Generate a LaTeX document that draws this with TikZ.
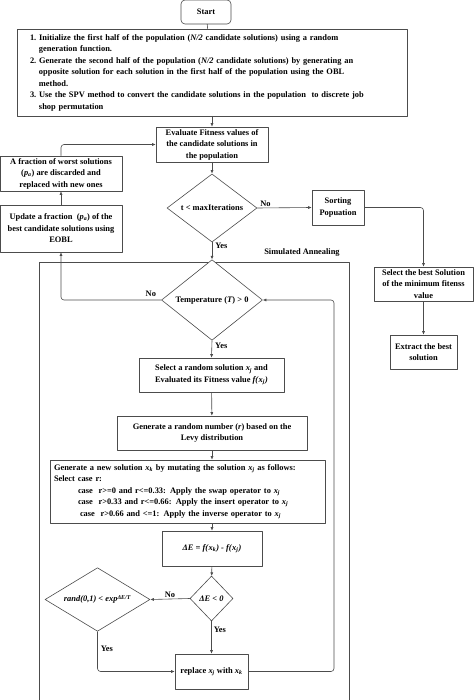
\documentclass[tikz,border=0pt]{standalone}
\usepackage{fontspec}
\setmainfont{Liberation Serif}
\usetikzlibrary{arrows.meta,positioning,calc,shapes.geometric}
\newcommand{\xv}[1]{\textit{x}\textsubscript{\textit{#1}}}
\newcommand{\pfrac}{(\textit{p}\textsubscript{\textit{a}})}
\tikzset{
  proc/.style={rectangle,draw=black!70,line width=0.6pt,fill=white,align=center,inner sep=1pt,
               font=\fontsize{8.4}{11.5}\selectfont\bfseries},
  dec/.style={diamond,draw=black!70,line width=0.6pt,fill=white,align=center,inner sep=0pt,
              font=\fontsize{8.4}{11.5}\selectfont\bfseries},
  lbl/.style={font=\fontsize{8.4}{10}\selectfont\bfseries,inner sep=1pt},
  flow/.style={draw=black!70,line width=0.6pt,rounded corners=3pt,-{Latex[length=3.5pt,width=3pt]}},
  every picture/.style={line cap=round,line join=round}}

\begin{document}
\begin{tikzpicture}[x=1pt,y=-1pt]
  \clip (0,0) rectangle (474,700);
  % main loop
  \node[proc,rounded corners=4pt,minimum width=50pt,minimum height=24pt] (start) at (206,12) {Start};
  \node[proc,text width=364pt,inner xsep=13pt,minimum height=87pt,align=left] (init) at (212,72.5) {%
    1.\ Initialize the first half of the population (\textit{N/2} candidate solutions) using a random\\
    \hspace*{9pt}generation function.\\
    2.\ Generate the second half of the population (\textit{N/2} candidate solutions) by generating an\\
    \hspace*{9pt}opposite solution for each solution in the first half of the population using the OBL\\
    \hspace*{9pt}method.\\
    3.\ Use the SPV method to convert the candidate solutions in the population\ \ to discrete job\\
    \hspace*{9pt}shop permutation};
  \node[proc,minimum width=112pt,minimum height=35pt] (eval) at (212,144.5) {Evaluate Fitness values of\\the candidate solutions in\\the population};
  \node[dec,minimum width=90pt,minimum height=57pt] (tmax) at (212,208) {t < maxIterations};
  \node[proc,minimum width=52pt,minimum height=35pt] (sort) at (338,207.5) {Sorting\\Popuation};
  \node[proc,minimum width=99pt,minimum height=34pt] (best) at (423.5,284) {Select the best Solution\\of the minimum fitenss\\value};
  \node[proc,minimum width=67pt,minimum height=34pt] (extract) at (423.5,352) {Extract the best\\solution};
  \node[proc,minimum width=122pt,minimum height=35pt] (worst) at (61,173.5) {A fraction of worst solutions\\\pfrac{} are discarded and\\replaced with new ones};
  \node[proc,minimum width=122pt,minimum height=47pt] (update) at (61,228.5) {Update a fraction\ \ \pfrac{} of the\\best candidate solutions using\\EOBL};
  % simulated annealing
  \draw[draw=black!70,line width=0.6pt] (39,705) -- (39,262) -- (349,262) -- (349,705);
  \node[lbl] (salbl) at (302,253) {Simulated Annealing};
  \node[dec,minimum width=101pt,minimum height=56pt] (temp) at (212,300) {Temperature (\textit{T}) > 0};
  \node[proc,minimum width=145pt,minimum height=34pt] (sel) at (211.5,375) {Select a random solution \xv{j} and\\Evaluated its Fitness value \textit{f(}\xv{j}\textit{)}};
  \node[proc,minimum width=190pt,minimum height=34pt] (rnd) at (212,433) {Generate a random number (\textit{r}) based on the\\Levy distribution};
  \node[proc,text width=267pt,inner xsep=4pt,minimum height=63pt,align=left] (newsol) at (187.5,491.5) {%
    Generate a new solution \xv{k} by mutating the solution \xv{j} as follows:\\
    Select case r:\\
    \hspace*{24pt}case\ \ r>=0 and r<=0.33: Apply the swap operator to \xv{j}\\
    \hspace*{24pt}case\ \ r>0.33 and r<=0.66: Apply the insert operator to \xv{j}\\
    \hspace*{26pt}case\ \ r>0.66 and <=1: Apply the inverse operator to \xv{j}};
  \node[proc,minimum width=100pt,minimum height=35pt] (dE) at (212,548.5) {\textit{ΔE = f(}\xv{k}\textit{) - f(}\xv{j}\textit{)}};
  \node[dec,minimum width=43pt,minimum height=45pt] (dneg) at (211.5,598.5) {\textit{ΔE < 0}};
  \node[dec,minimum width=105pt,minimum height=55pt,inner sep=-3pt] (rand) at (97.5,599.5) {\textit{rand(0,1) < exp}\textsuperscript{\textit{ΔE/T}}};
  \node[proc,minimum width=73pt,minimum height=35pt] (repl) at (211.5,671.5) {replace \xv{j} with \xv{k}};
  \coordinate (back) at (334,300);
  % connectors
  \draw[draw=black!70,line width=0.6pt] (start) -- (init);
  \draw[flow] (init) -- (eval);
  \draw[flow] (eval) -- (tmax);
  \draw[flow] (tmax.east) -- (sort.west) node[lbl,pos=0.15,above] {No};
  \draw[flow] (sort.east) -| (best.north);
  \draw[flow] (best) -- (extract);
  \draw[flow] (tmax.south) -- (temp.north) node[lbl,pos=0.2,right=2pt] {Yes};
  \draw[flow] (temp.west) -| (update.south);
  \node[lbl,anchor=south east] (tempno) at ([xshift=-4pt,yshift=2pt]temp.west) {No};
  \draw[flow] (update) -- (worst);
  \draw[flow] (worst.north) |- (eval.west);
  \draw[flow] (temp.south) -- (sel.north) node[lbl,pos=0.3,right=2pt] {Yes};
  \draw[flow] (sel) -- (rnd);
  \draw[flow] (rnd.south) -- (rnd.south |- newsol.north);
  \draw[flow] (dE.north |- newsol.south) -- (dE.north);
  \draw[flow] (dE) -- (dneg);
  \draw[flow] (dneg.west) -- (rand.east) node[lbl,pos=0.5,above] {No};
  \draw[flow] (dneg.south) -- (repl.north) node[lbl,pos=0.25,right=1pt] {Yes};
  \draw[flow] (rand.south) |- (repl.west) node[lbl,pos=0.22,right=2pt] {Yes};
  \draw[flow] (repl.east) -| (back) -- (temp.east);
\end{tikzpicture}
\end{document}
